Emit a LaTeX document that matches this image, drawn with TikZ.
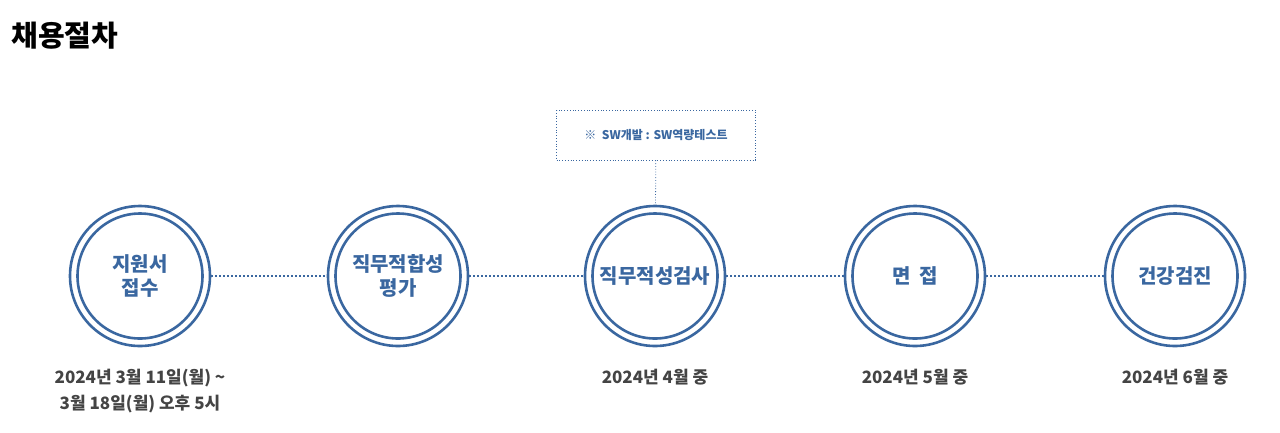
\documentclass[tikz,border=0pt]{standalone}
\usepackage{fontspec}
\setmainfont{Noto Sans CJK KR}
\definecolor{stepblue}{HTML}{3A67A0}
\definecolor{dategray}{HTML}{444444}
\tikzset{
  stage/.style={circle, draw=stepblue, line width=2.6pt, minimum size=140pt, inner sep=0pt},
  inring/.style={circle, draw=stepblue, line width=2.6pt, minimum size=125pt, inner sep=0pt,
    align=center, text=stepblue, font=\fontsize{20}{24}\selectfont\bfseries},
  datetext/.style={text=dategray, align=center, font=\fontsize{17}{26}\selectfont\bfseries},
  link/.style={stepblue, line width=2pt, dotted}
}
\begin{document}
\begin{tikzpicture}[x=1pt, y=-1pt]
\useasboundingbox (0,0) rectangle (1280,432);
\node[anchor=west, font=\fontsize{29}{32}\selectfont\bfseries] (title) at (8,36) {채용절차};

\foreach \n/\x/\t in {a/140/{지원서\\접수}, b/398/{직무적합성\\평가}, c/655/{직무적성검사}, d/915/{면\ \ 접}, e/1175/{건강검진}}{
  \node[stage] (\n) at (\x,276) {};
  \node[inring] (\n in) at (\x,276) {\t};
}
\draw[link] (a) -- (b);
\draw[link] (b) -- (c);
\draw[link] (c) -- (d);
\draw[link] (d) -- (e);

\node[draw=stepblue, dotted, thick, minimum width=199pt, minimum height=50pt,
  text=stepblue, font=\fontsize{12}{14}\selectfont\bfseries] (note) at (656,135) {※\ \ SW개발 : SW역량테스트};
\draw[stepblue, dotted, thick] (note) -- (c);

\node[datetext] (da) at (140,391) {2024년 3월 11일(월) \textasciitilde\\3월 18일(월) 오후 5시};
\node[datetext] (dc) at (655,377) {2024년 4월 중};
\node[datetext] (dd) at (915,377) {2024년 5월 중};
\node[datetext] (de) at (1175,377) {2024년 6월 중};
\end{tikzpicture}
\end{document}
